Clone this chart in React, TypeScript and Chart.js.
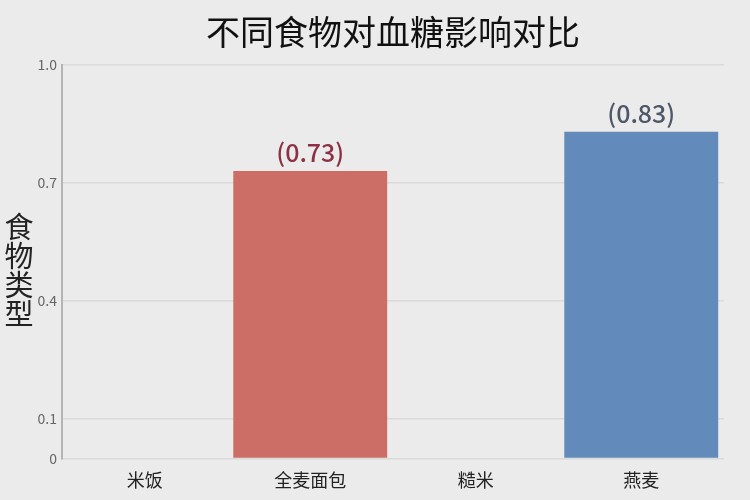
import { useEffect, useRef } from "react"
import { Chart, registerables } from "chart.js"

Chart.register(...registerables)

// Values (y scale 0 - 1.0)
const categories = ["米饭", "全麦面包", "糙米", "燕麦"]
const glucoseRatio = [0, 0.73, 0, 0.83]
const barColors = ["#cd6e66", "#cd6e66", "#628bbb", "#628bbb"]
const labelColors = ["#333333", "#8e3045", "#333333", "#4d5868"]
const yTicks = [0, 0.1, 0.4, 0.7, 1.0]

const FONT = '"Noto Sans CJK SC", "Noto Sans", sans-serif'

// Draws the value above each bar
const barLabels = {
    id: "barLabels",
    afterDatasetsDraw(chart: Chart) {
        const { ctx } = chart
        const meta = chart.getDatasetMeta(0)
        ctx.save()
        ctx.font = `500 25px ${FONT}`
        ctx.textAlign = "center"
        ctx.textBaseline = "bottom"
        meta.data.forEach((bar: any, i: number) => {
            const v = glucoseRatio[i]
            if (!v) return
            ctx.fillStyle = labelColors[i]
            ctx.fillText(`(${v.toFixed(2)})`, bar.x, bar.y - 6)
        })
        ctx.restore()
    },
}

export default function App() {
    const chartRef = useRef<HTMLCanvasElement>(null)
    const chartInstance = useRef<Chart | null>(null)

    useEffect(() => {
        document.body.style.margin = "0"
        document.body.style.background = "#ebebeb"
        if (!chartRef.current) return
        if (chartInstance.current) chartInstance.current.destroy()

        const ctx = chartRef.current.getContext("2d")
        if (!ctx) return

        chartInstance.current = new Chart(ctx, {
            type: "bar",
            data: {
                labels: categories,
                datasets: [
                    {
                        label: "血糖影响",
                        data: glucoseRatio,
                        backgroundColor: barColors,
                        borderWidth: 0,
                        categoryPercentage: 1,
                        barPercentage: 0.93,
                    },
                ],
            },
            options: {
                responsive: true,
                maintainAspectRatio: false,
                animation: false,
                layout: { padding: { left: 12, right: 26, bottom: 6 } },
                plugins: {
                    legend: { display: false },
                    tooltip: { enabled: false },
                    title: {
                        display: true,
                        text: "不同食物对血糖影响对比",
                        color: "#111111",
                        fullSize: false,
                        font: { family: FONT, size: 34, weight: "normal" },
                        padding: { top: 12, bottom: 12 },
                    },
                },
                scales: {
                    x: {
                        grid: { display: false },
                        border: { display: false },
                        ticks: { color: "#222222", font: { family: FONT, size: 18 } },
                    },
                    y: {
                        min: 0,
                        max: 1,
                        afterFit: (scale: any) => {
                            scale.width = 50
                        },
                        afterBuildTicks: (scale: any) => {
                            scale.ticks = yTicks.map((v) => ({ value: v }))
                        },
                        grid: { color: "#dadada", lineWidth: 1.5, drawTicks: false },
                        border: { color: "#b4b4b4", width: 2 },
                        ticks: {
                            color: "#666666",
                            padding: 5,
                            font: { family: FONT, size: 14 },
                            callback: (v: any) => (v === 1 ? "1.0" : String(v)),
                        },
                    },
                },
            },
            plugins: [barLabels],
        })

        return () => {
            if (chartInstance.current) {
                chartInstance.current.destroy()
                chartInstance.current = null
            }
        }
    }, [])

    return (
        <div style={{ position: "relative", width: 750, height: 500, background: "#ebebeb", overflow: "hidden" }}>
            <canvas ref={chartRef}></canvas>
            <div
                style={{
                    position: "absolute",
                    left: 3,
                    top: 212,
                    fontFamily: FONT,
                    fontSize: 29,
                    lineHeight: "31px",
                    color: "#222222",
                    writingMode: "vertical-rl",
                }}
            >
                食物类型
            </div>
        </div>
    )
}
